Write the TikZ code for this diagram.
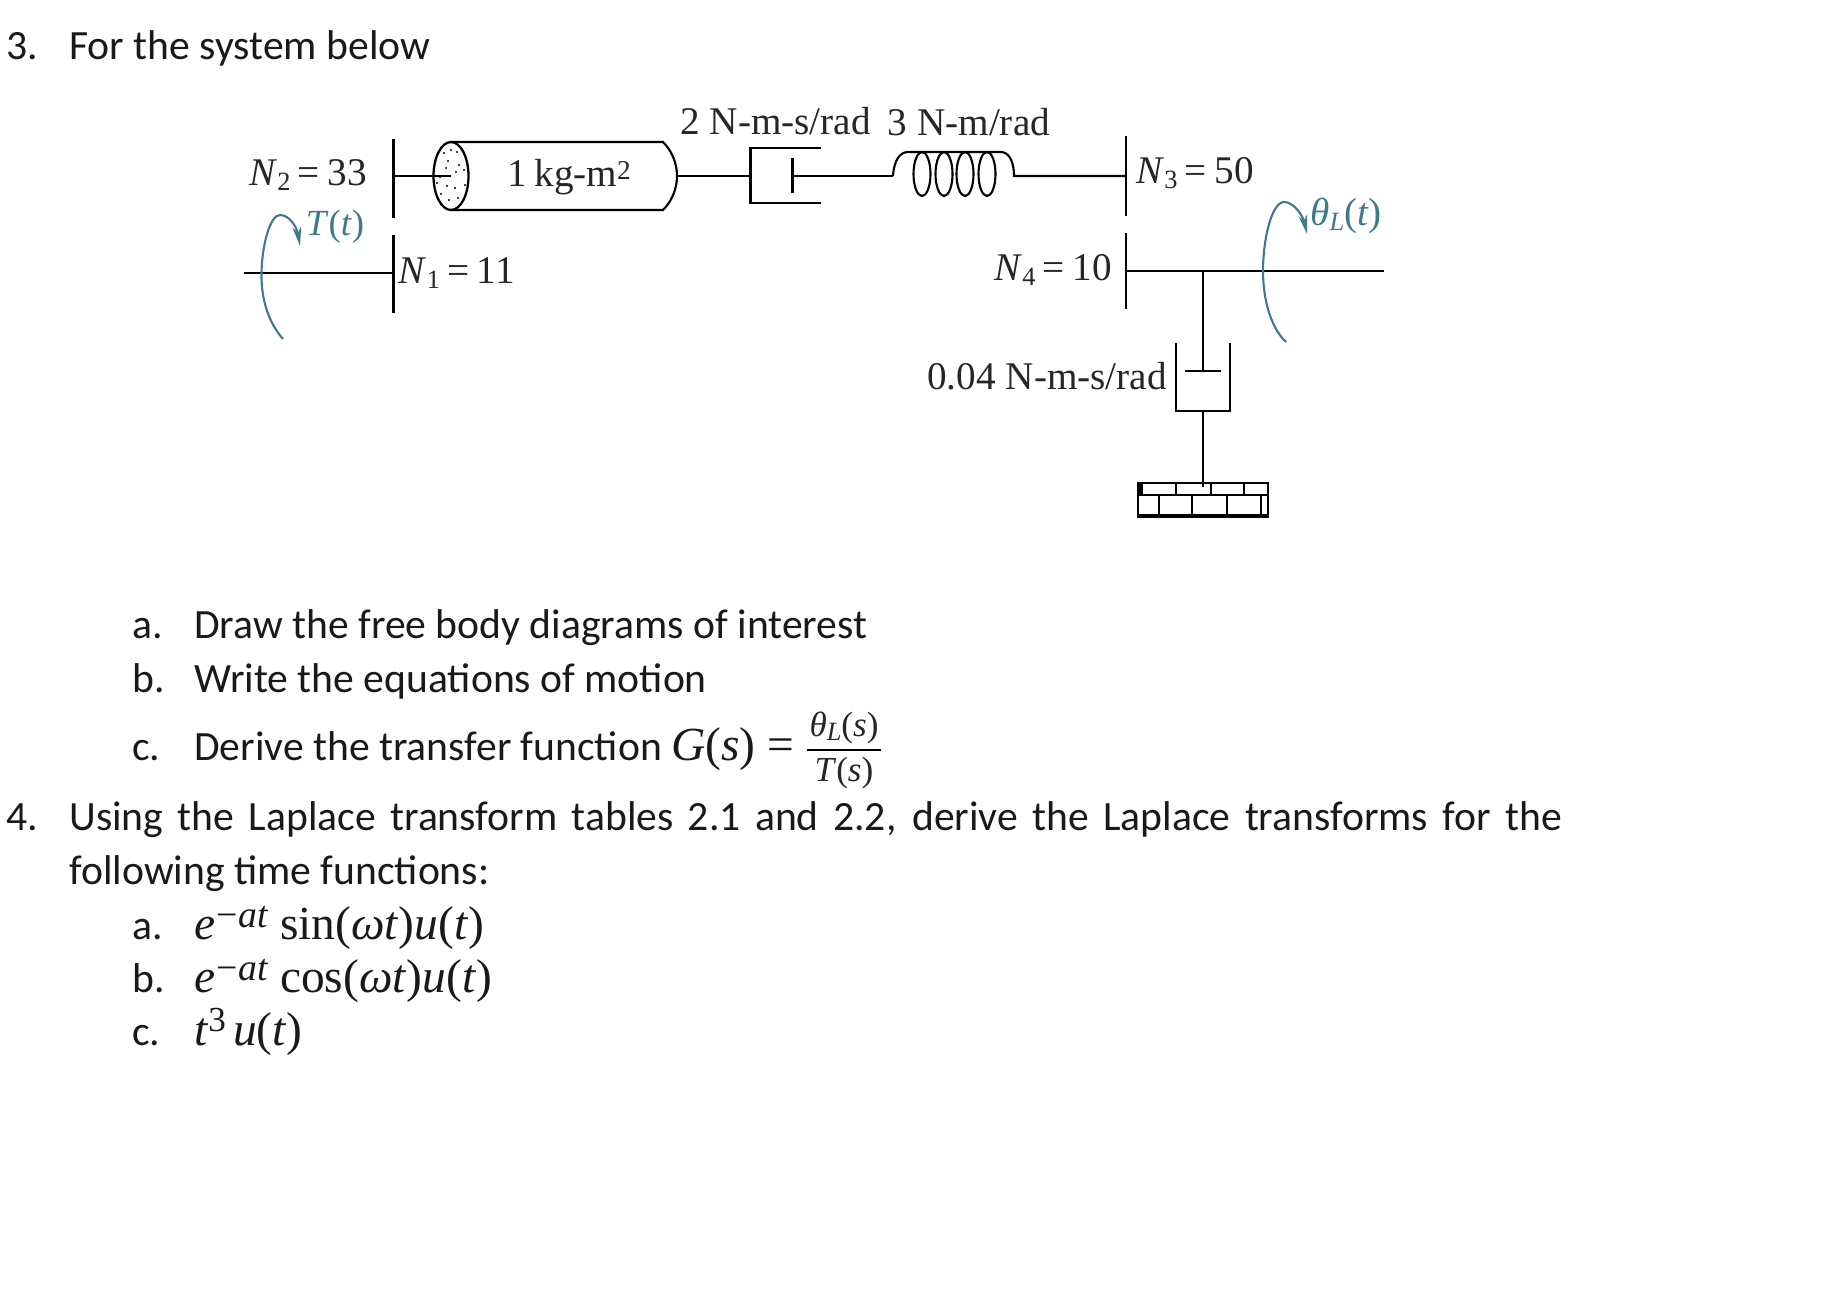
\documentclass[tikz,border=0pt]{standalone}
\usepackage{fontspec}
\setmainfont{Carlito}
\newfontfamily\timesf{Liberation Serif}
\usetikzlibrary{arrows.meta}
\usetikzlibrary{calc}
\definecolor{turnteal}{HTML}{3F7A8C}
\newcommand{\subvar}[2]{\textit{#1}\raisebox{-0.3ex}{\fontsize{15}{15}\selectfont #2}}
\newcommand{\tighteq}{\hspace{0.19em}=\hspace{0.19em}}
\newcommand{\eqline}[1]{{\timesf\fontsize{27}{32}\selectfont #1}}
\newcommand{\expat}{\textit{e}\hspace{0.8pt}\raisebox{0.55ex}{\fontsize{21.5}{22}\selectfont −\textit{at}}}

\begin{document}
\begin{tikzpicture}[
        x=0.02cm, y=-0.02cm,
        shaft/.style={line width=1.2pt, black},
        turn/.style={turnteal, line width=1.2pt, -{Stealth[length=11pt,width=5pt]}},
        body/.style={anchor=base west, inner sep=0pt, font=\fontsize{23.7}{28}\selectfont, text=black!90},
        label/.style={anchor=base west, inner sep=0pt, font=\timesf\fontsize{22.3}{27}\selectfont, text=black!85},
        turnlabel/.style={label, text=turnteal}
    ]
    \useasboundingbox (0,0) rectangle (1838,1298);

    % Coordinates of the gears
    \coordinate (N2top) at (393.5,139);
    \coordinate (N2bot) at (393.5,218);
    \coordinate (N1top) at (393.5,235);
    \coordinate (N1bot) at (393.5,313);
    \coordinate (N3top) at (1126,136);
    \coordinate (N3bot) at (1126,216);
    \coordinate (N4top) at (1126,233);
    \coordinate (N4bot) at (1126,309);
    \draw[shaft] (N2top) -- (N2bot);
    \draw[shaft] (N1top) -- (N1bot);
    \draw[shaft] (N3top) -- (N3bot);
    \draw[shaft] (N4top) -- (N4bot);

    % Inertia
    \coordinate (J) at (451,176);
    \draw[shaft] (393.5,176) -- (J);
    \draw[shaft, line width=1.3pt] (J) ellipse (17.5 and 34);
    \draw[shaft] (451,142) -- (663,142) .. controls (671,150) and (677,162) .. (677,176)
        .. controls (677,190) and (671,202) .. (663,210) -- (451,210);
    \foreach \dotx/\doty in {444/153, 451/150, 457/152, 448/161, 446/168, 456/172, 459/165,
            440/177, 464/170, 447/186, 455/188, 441/194, 449/200, 458/198, 465/185, 437/183}
        \fill (\dotx,\doty) circle (1.1);

    % Upper damper
    \coordinate (Dleft) at (750.5,176);
    \coordinate (Pist) at (792.5,176);
    \draw[shaft] (677,176) -- (Dleft);
    \draw[shaft] (820.5,148) -- (750.5,148) -- (750.5,203) -- (820.5,203);
    \draw[shaft] (792.5,158) -- (792.5,193);
    \draw[shaft] (Pist) -- (893,176);

    % Spring
    \draw[shaft] (893,176) .. controls (894,160) and (900,152) .. (908,152) -- (1001,152)
        .. controls (1008,152) and (1014,160) .. (1014,176) -- (1126,176);
    \foreach \coilx in {922, 944, 965, 987}
        \draw[shaft] (\coilx,174) ellipse (8.5 and 22);

    % Lower shafts
    \draw[shaft] (244,273) -- (393.5,273);
    \draw[shaft] (1126,271) -- (1384,271);

    % Lower damper and wall
    \coordinate (Vshaft) at (1203,271);
    \draw[shaft] (Vshaft) -- (1203,371);
    \draw[shaft] (1185,371) -- (1221,371);
    \draw[shaft] (1176,343) -- (1176,411) -- (1230,411) -- (1230,343);
    \draw[shaft] (1203,411) -- (1203,487);
    \draw[shaft] (1138,483) rectangle (1268,517);
    \draw[shaft] (1138,495) -- (1268,495);
    \draw[line width=2pt] (1138,516) -- (1268,516);
    \draw[line width=1.8pt] (1141,483) -- (1141,495);
    \foreach \brickx in {1176, 1211, 1244}
        \draw[shaft] (\brickx,483) -- (\brickx,495);
    \foreach \brickx in {1159, 1192, 1227, 1261}
        \draw[shaft] (\brickx,495) -- (\brickx,517);

    % Angular arrows
    \draw[turn] (283,339) .. controls (268,322) and (261,298) .. (261.5,273)
        .. controls (262,245) and (270,215) .. (280,215) .. controls (290,215) and (297,228) .. (300,246);
    \draw[turn] (1286,342) .. controls (1271,328) and (1263,300) .. (1263,271)
        .. controls (1263,238) and (1272,202) .. (1284,202) .. controls (1294,202) and (1303,216) .. (1307,234);

    % Labels of the diagram
    \node[label] (lN2) at (249,185) {\subvar{N}{2}\tighteq 33};
    \node[label] (lN1) at (398.5,283) {\subvar{N}{1}\tighteq 11};
    \node[label] (lN3) at (1136,183) {\subvar{N}{3}\tighteq 50};
    \node[label] (lN4) at (994,280) {\subvar{N}{4}\tighteq 10};
    \node[label] (lJ) at (507.5,186) {1\hspace{0.18em}kg-m\raisebox{0.35ex}{\fontsize{15.5}{17}\selectfont 2}};
    \node[label] (lD1) at (680,134) {2 N-m-s/rad};
    \node[label] (lK) at (887.5,135) {3 N-m/rad};
    \node[label] (lD2) at (927,389) {0.04 N-m-s/rad};
    \node[turnlabel, font=\timesf\fontsize{21}{26}\selectfont] (lT) at (305.5,235) {\textit{T}(\textit{t})};
    \node[turnlabel] (lTheta) at (1310,225) {\subvar{θ}{\textit{L}}(\textit{t})};

    % Question 3
    \node[body] (q3) at (6,59) {3.};
    \node[body] (q3t) at (69,59) {For the system below};
    \node[body] (q3a) at (132,638.5) {a.};
    \node[body] (q3at) at (194,638.5) {Draw the free body diagrams of interest};
    \node[body] (q3b) at (132,692.5) {b.};
    \node[body] (q3bt) at (194,692.5) {Write the equations of motion};
    \node[body] (q3c) at (132,760.5) {c.};
    \node[body] (q3ct) at (194,760.5) {Derive the transfer function \eqline{\textit{G}(\textit{s}) =}};

    % Fraction of G(s)
    \node[label, anchor=base, font=\timesf\fontsize{20}{24}\selectfont] (gnum) at (844,736) {\subvar{θ}{\textit{L}}(\textit{s})};
    \node[label, anchor=base, font=\timesf\fontsize{20}{24}\selectfont] (gden) at (844,781) {\textit{T}(\textit{s})};
    \coordinate (barL) at (807,750);
    \coordinate (barR) at (881,750);
    \draw[line width=1.2pt] (barL) -- (barR);

    % Question 4
    \node[body] (q4) at (6,830.5) {4.};
    \node[body] (q4t) at (69,830.5) {\makebox[29.86cm][s]{Using the Laplace transform tables 2.1 and 2.2, derive the Laplace transforms for the}};
    \node[body] (q4u) at (69,884.5) {following time functions:};
    \node[body] (q4a) at (132,939) {a.};
    \node[body] (q4at) at (194,939) {\eqline{\expat\ sin(\textit{ωt})\textit{u}(\textit{t})}};
    \node[body] (q4b) at (132,992) {b.};
    \node[body] (q4bt) at (194,992) {\eqline{\expat\ cos(\textit{ωt})\textit{u}(\textit{t})}};
    \node[body] (q4c) at (132,1045) {c.};
    \node[body] (q4ct) at (194,1045) {\eqline{\textit{t}\raisebox{0.6ex}{\fontsize{20}{20}\selectfont 3}\hspace{4pt}\textit{u}(\textit{t})}};
\end{tikzpicture}
\end{document}
